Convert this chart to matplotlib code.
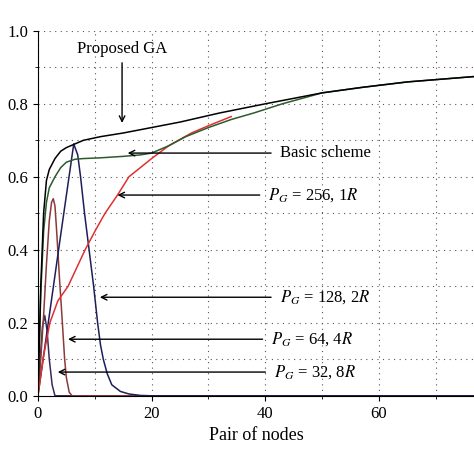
import matplotlib
matplotlib.use("Agg")
import matplotlib.pyplot as plt

plt.rcParams['font.family'] = ['Liberation Serif', 'DejaVu Serif']
plt.rcParams['mathtext.fontset'] = 'stix'

ga_x = [0, 0.5, 1, 1.5, 2, 3, 4, 5, 6.5, 8, 11, 15, 20, 25, 32, 40, 45, 50, 57, 65, 77]
ga_y = [0, 0.3, 0.5, 0.59, 0.62, 0.65, 0.67, 0.68, 0.69, 0.70, 0.71, 0.72, 0.735, 0.75, 0.775, 0.80, 0.815, 0.83, 0.845, 0.86, 0.875]
bs_x = [0, 0.5, 1, 1.5, 2, 3, 4, 5, 6.5, 8, 11, 15, 18, 20, 23, 26, 30, 34, 38, 43, 50, 57, 65, 77]
bs_y = [0, 0.28, 0.45, 0.53, 0.57, 0.6, 0.625, 0.64, 0.648, 0.65, 0.652, 0.656, 0.66, 0.665, 0.685, 0.71, 0.735, 0.757, 0.775, 0.80, 0.83, 0.845, 0.86, 0.875]
r256_x = [0, 1, 2.1, 3.5, 5.3, 6.8, 8.3, 10, 11.8, 14, 16, 18, 20, 23, 27, 30, 34]
r256_y = [0, 0.11, 0.2, 0.26, 0.3, 0.35, 0.4, 0.45, 0.5, 0.55, 0.6, 0.625, 0.65, 0.685, 0.72, 0.74, 0.765]
r128_x = [0, 2, 4, 6.3, 7, 7.5, 8.2, 9, 9.8, 10.5, 11, 11.5, 12.2, 13, 14.5, 16, 18, 20, 77]
r128_y = [0, 0.22, 0.44, 0.69, 0.66, 0.6, 0.5, 0.4, 0.3, 0.2, 0.14, 0.1, 0.06, 0.03, 0.012, 0.005, 0.001, 0, 0]
r64_x = [0, 0.5, 1, 1.5, 2, 2.4, 2.7, 3.0, 3.3, 3.8, 4.3, 4.7, 5, 5.5, 6, 77]
r64_y = [0, 0.1, 0.22, 0.36, 0.48, 0.53, 0.54, 0.52, 0.45, 0.32, 0.2, 0.1, 0.05, 0.01, 0, 0]
r32_x = [0, 0.4, 0.8, 1.2, 1.6, 2, 2.5, 3, 77]
r32_y = [0, 0.1, 0.19, 0.22, 0.18, 0.1, 0.03, 0, 0]

fig = plt.figure(figsize=(4.74, 4.74), dpi=100)
ax = fig.add_axes([0.08, 0.165, 0.92, 0.77])
ax.plot(r32_x, r32_y, color='#3a2a5a', lw=1.1)
ax.plot(r64_x, r64_y, color='#8b3a3a', lw=1.1)
ax.plot(r128_x, r128_y, color='#1e1e5a', lw=1.1)
ax.plot(r256_x, r256_y, color='#e03030', lw=1.1)
ax.plot(bs_x, bs_y, color='#2e5a2e', lw=1.1)
ax.plot(ga_x, ga_y, color='black', lw=1.1)

ax.set_xlim(0, 76.7)
ax.set_ylim(0, 1.0)
ax.set_xticks([0, 20, 40, 60])
ax.set_yticks([0, 0.2, 0.4, 0.6, 0.8, 1.0])
ax.set_yticklabels(['0.0', '0.2', '0.4', '0.6', '0.8', '1.0'])
ax.set_xticks(range(0, 80, 10), minor=True)
ax.set_yticks([i/10 for i in range(11)], minor=True)
ax.grid(True, which='both', linestyle=(0, (1, 4)), color='#555555', lw=0.8)
ax.tick_params(labelsize=12)
for s in ['top', 'right']:
    ax.spines[s].set_visible(False)
ax.set_xlabel('Pair of nodes', fontsize=13)

ap = dict(arrowstyle='->', color='black', lw=1)
ax.annotate('', xy=(14.8, 0.74), xytext=(14.8, 0.92), arrowprops=ap)
ax.text(6.8, 0.94, 'Proposed GA', fontsize=12)
ax.annotate('', xy=(15.3, 0.665), xytext=(41.5, 0.665), arrowprops=ap)
ax.text(42.5, 0.665, 'Basic scheme', fontsize=12, va='center')
ax.annotate('', xy=(13.5, 0.55), xytext=(39.5, 0.55), arrowprops=ap)
ax.text(40.5, 0.55, r'$P_G$ = 256, 1$R$', fontsize=12, va='center')
ax.annotate('', xy=(10.4, 0.27), xytext=(41.5, 0.27), arrowprops=ap)
ax.text(42.5, 0.27, r'$P_G$ = 128, 2$R$', fontsize=12, va='center')
ax.annotate('', xy=(4.8, 0.155), xytext=(40, 0.155), arrowprops=ap)
ax.text(41, 0.155, r'$P_G$ = 64, 4$R$', fontsize=12, va='center')
ax.annotate('', xy=(3, 0.065), xytext=(40.5, 0.065), arrowprops=ap)
ax.text(41.5, 0.065, r'$P_G$ = 32, 8$R$', fontsize=12, va='center')

fig.savefig('out.png', dpi=100)
